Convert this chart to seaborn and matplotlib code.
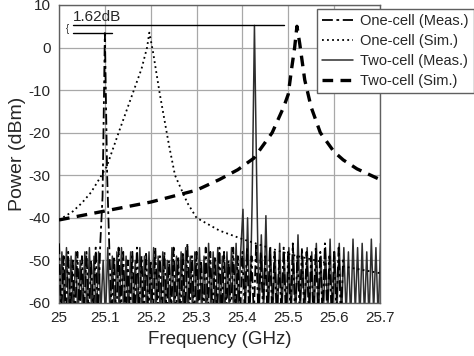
import numpy as np
import pandas as pd
import matplotlib
matplotlib.use("Agg")
import matplotlib.pyplot as plt
import seaborn as sns

# simulated curves (GHz, dBm)
one_sim_f = [25.0, 25.03, 25.05, 25.07, 25.09, 25.104, 25.13, 25.16, 25.18, 25.192,
             25.197, 25.205, 25.22, 25.24, 25.253, 25.28, 25.3, 25.35, 25.4, 25.5,
             25.6, 25.7]
one_sim_p = [-40.5, -38.5, -36.5, -34.0, -30.5, -28.0, -20.0, -11.0, -5.0, 0.0,
             3.5, -1.0, -11.0, -23.0, -30.0, -36.5, -40.0, -43.0, -45.0, -48.5,
             -51.0, -53.0]

two_sim_f = [25.0, 25.1, 25.2, 25.3, 25.35, 25.39, 25.425, 25.465, 25.49, 25.5,
             25.508, 25.514, 25.519, 25.525, 25.536, 25.55, 25.57, 25.6, 25.62,
             25.65, 25.7]
two_sim_p = [-40.5, -38.4, -36.3, -33.5, -31.0, -28.7, -26.0, -20.0, -14.0, -11.0,
             -4.5, 0.0, 5.0, 1.0, -7.6, -14.0, -20.0, -24.5, -26.4, -28.5, -31.0]

# measured spectra (25.0 .. 25.62 GHz and 25.0 .. 25.7 GHz sweeps)
one_meas_p = [
    -46, -63, -49, -64, -48, -62, -50, -64, -48, -63,
    -49, -62, -48, -64, -50, -63, -47, -64, -46, -35,
    3.4, -30, -48, -63, -49, -64, -47, -62, -48, -64,
    -50, -63, -48, -64, -47, -62, -49, -64, -48, -63,
    -50, -64, -47, -62, -49, -63, -48, -64, -50, -62,
    -47, -64, -49, -63, -48, -64, -46, -62, -49, -64,
    -48, -63, -50, -64, -47, -62, -48, -64, -49, -63,
    -47, -64, -48, -62, -50, -64, -47, -63, -49, -64,
    -48, -62, -47, -64, -49, -63, -46, -64, -48, -62,
    -49, -64, -47, -63, -48, -64, -50, -62, -47, -64,
    -48, -63, -46, -64, -49, -62, -47, -64, -48, -63,
    -49, -64, -47, -62, -48, -64, -46, -63, -49, -64,
    -48, -62, -47, -64, -49,
]
two_meas_p = [
    -64, -48, -62, -47, -64, -49, -63, -48, -64, -50,
    -62, -48, -64, -47, -63, -49, -64, -48, -62, -50,
    -64, -47, -63, -49, -64, -48, -62, -47, -64, -49,
    -63, -48, -64, -50, -62, -47, -64, -49, -63, -48,
    -64, -47, -62, -49, -64, -48, -63, -50, -64, -47,
    -62, -49, -64, -48, -63, -47, -64, -49, -62, -48,
    -64, -47, -63, -49, -64, -46, -62, -48, -64, -47,
    -63, -49, -64, -48, -62, -47, -64, -46, -63, -48,
    -38, -64, -40, -63, -36, 5.2, -32, -64, -44, -62,
    -39.5, -64, -47, -63, -48, -64, -46, -62, -49, -64,
    -47, -63, -48, -64, -44, -62, -49, -64, -47, -63,
    -48, -64, -46, -62, -49, -64, -47, -63, -45, -64,
    -48, -62, -46, -64, -47, -63, -48, -64, -45, -62,
    -47, -64, -46, -63, -48, -64, -45, -62, -47, -64,
    -46,
]
one_meas_f = np.linspace(25.0, 25.62, len(one_meas_p))
two_meas_f = np.linspace(25.0013, 25.7013, len(two_meas_p))

x_ticks = [25, 25.1, 25.2, 25.3, 25.4, 25.5, 25.6, 25.7]
y_ticks = [-60, -50, -40, -30, -20, -10, 0, 10]

# 1.62 dB marker
mark_hi, mark_lo = 5.2, 3.4
mark_x0, mark_hi_x1, mark_lo_x1 = 25.03, 25.49, 25.115

sns.set_style("white")
plt.rcParams["font.family"] = ["Liberation Sans", "DejaVu Sans"]
plt.rcParams["axes.unicode_minus"] = False

fig = plt.figure(figsize=(4.74, 3.56), dpi=100)
ax = fig.add_axes([0.1245, 0.149, 0.677, 0.837])

df_2m = pd.DataFrame({"f": two_meas_f, "p": two_meas_p})
df_1m = pd.DataFrame({"f": one_meas_f, "p": one_meas_p})
df_1s = pd.DataFrame({"f": one_sim_f, "p": one_sim_p})
df_2s = pd.DataFrame({"f": two_sim_f, "p": two_sim_p})

sns.lineplot(data=df_2m, x="f", y="p", ax=ax, color="#2e2e2e", lw=1.1,
             estimator=None, sort=False, label="Two-cell (Meas.)", zorder=2)
sns.lineplot(data=df_1m, x="f", y="p", ax=ax, color="black", lw=1.3,
             linestyle=(0, (6, 2, 1.5, 2)), estimator=None, sort=False,
             label="One-cell (Meas.)", zorder=3)
sns.lineplot(data=df_1s, x="f", y="p", ax=ax, color="black", lw=1.3,
             linestyle=(0, (1, 1.8)), estimator=None, sort=False,
             label="One-cell (Sim.)", zorder=4)
sns.lineplot(data=df_2s, x="f", y="p", ax=ax, color="black", lw=2.4,
             linestyle=(0, (3.2, 2.2)), estimator=None, sort=False,
             label="Two-cell (Sim.)", zorder=5)

# marker lines
ax.plot([mark_x0, mark_hi_x1], [mark_hi, mark_hi], color="black", lw=1.0, zorder=6)
ax.plot([mark_x0, mark_lo_x1], [mark_lo, mark_lo], color="black", lw=1.0, zorder=6)
ax.text(mark_x0 - 0.012, (mark_hi + mark_lo) / 2, "{", fontsize=7,
        ha="center", va="center", zorder=6)
ax.text(mark_x0, mark_hi + 0.4, "1.62dB", fontsize=11, ha="left", va="bottom")

ax.set_xlim(25, 25.7)
ax.set_ylim(-60, 10)
ax.set_xticks(x_ticks)
ax.set_xticklabels([f"{t:g}" for t in x_ticks])
ax.set_yticks(y_ticks)
ax.grid(True, color="#a8a8a8", lw=0.9)
ax.set_axisbelow(True)
for s in ax.spines.values():
    s.set_color("#606060")
    s.set_linewidth(1.0)
ax.tick_params(axis="both", labelsize=11, length=3, direction="out",
               color="#606060", pad=3)
ax.set_xlabel("Frequency (GHz)", fontsize=13.5, labelpad=4)
ax.set_ylabel("Power (dBm)", fontsize=14, labelpad=2)

handles, labels = ax.get_legend_handles_labels()
order = [labels.index(n) for n in
         ["One-cell (Meas.)", "One-cell (Sim.)", "Two-cell (Meas.)", "Two-cell (Sim.)"]]
leg = fig.legend([handles[i] for i in order], [labels[i] for i in order],
                 loc="upper right", bbox_to_anchor=(1.0, 0.975), fontsize=10.5,
                 frameon=True, fancybox=False, framealpha=1, edgecolor="#606060",
                 handlelength=2.1, labelspacing=0.42, borderpad=0.35,
                 handletextpad=0.5, borderaxespad=0.0)
leg.get_frame().set_linewidth(1.0)
if ax.get_legend() is not None:
    ax.get_legend().remove()

fig.savefig("out.png", dpi=100)
